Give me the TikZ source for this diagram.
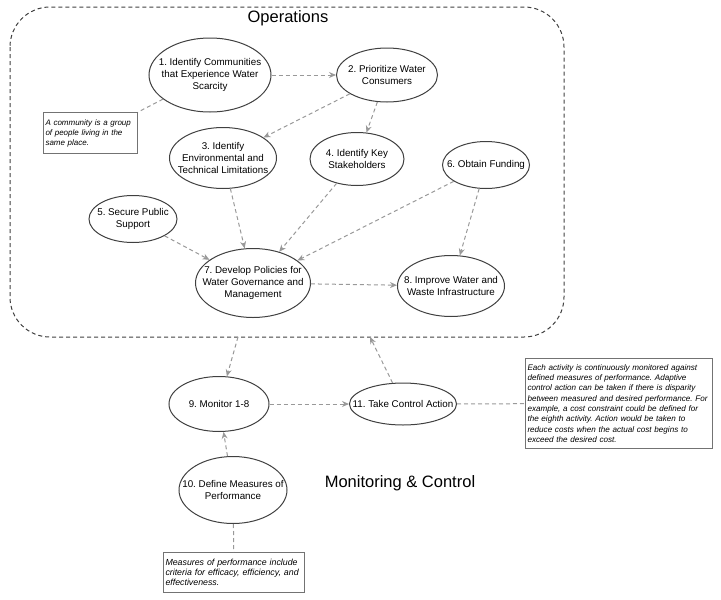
\documentclass[tikz,border=0pt]{standalone}
\usepackage{fontspec}
\setmainfont{Liberation Sans}
\usetikzlibrary{shapes.geometric,arrows.meta}
\frenchspacing
\begin{document}
\begin{tikzpicture}[x=1pt,y=-1pt,
    activity/.style={ellipse,draw=black!75,line width=1pt,fill=white,inner sep=0pt},
    txt/.style={align=center,inner sep=0pt,font=\fontsize{9.8}{11.8}\selectfont},
    flow/.style={draw=black!40,dash pattern=on 4pt off 3pt,line width=1pt,-{Stealth[length=7pt,width=6pt]}},
    link/.style={draw=black!40,dash pattern=on 4pt off 3pt,line width=1pt},
    note/.style={draw=black!55,line width=1pt,fill=white,align=left,inner xsep=2pt,anchor=north west,font=\itshape\fontsize{8}{10}\selectfont},
    heading/.style={font=\fontsize{16.5}{19}\selectfont}]
    \useasboundingbox (0,0) rectangle (721,600);
    \draw[black!75,dash pattern=on 4pt off 3pt,line width=1pt,rounded corners=40] (10,7) rectangle (564,337);
    \node[heading] (ops) at (288,18) {Operations};
    \node[heading] (mc) at (400,483) {Monitoring \& Control};
    \node[activity,minimum width=122,minimum height=74,label={[txt]center:1. Identify Communities\\that Experience Water\\Scarcity}] (n1) at (210,75) {};
    \node[activity,minimum width=101,minimum height=54,label={[txt]center:2. Prioritize Water\\Consumers}] (n2) at (387,75) {};
    \node[activity,minimum width=107,minimum height=61,label={[txt]center:3. Identify\\Environmental and\\Technical Limitations}] (n3) at (223,158) {};
    \node[activity,minimum width=94,minimum height=53,label={[txt]center:4. Identify Key\\Stakeholders}] (n4) at (357,159) {};
    \node[activity,minimum width=88,minimum height=47,label={[txt]center:5. Secure Public\\Support}] (n5) at (133,219) {};
    \node[activity,minimum width=87,minimum height=47,label={[txt]center:6. Obtain Funding}] (n6) at (486,165) {};
    \node[activity,minimum width=115,minimum height=69,label={[txt]center:7. Develop Policies for\\Water Governance and\\Management}] (n7) at (253,283) {};
    \node[activity,minimum width=107,minimum height=61,label={[txt]center:8. Improve Water and\\Waste Infrastructure}] (n8) at (451,286) {};
    \node[activity,minimum width=100,minimum height=55,label={[txt]center:9. Monitor 1-8}] (n9) at (219,404) {};
    \node[activity,minimum width=108,minimum height=67,label={[txt]center:10. Define Measures of\\Performance}] (n10) at (233,490) {};
    \node[activity,minimum width=107,minimum height=42,label={[txt]center:11. Take Control Action}] (n11) at (403,404) {};
    \node[note,text width=90,minimum height=41] (note1) at (43,112) {A community is a group\\of people living in the\\same place.};
    \node[note,text width=183,minimum height=90,font=\itshape\fontsize{8.1}{10.3}\selectfont] (note11) at (525,358) {Each activity is continuously monitored against\\defined measures of performance. Adaptive\\control action can be taken if there is disparity\\between measured and desired performance. For\\example, a cost constraint could be defined for\\the eighth activity. Action would be taken to\\reduce costs when the actual cost begins to\\exceed the desired cost.};
    \node[note,text width=137,minimum height=40,font=\itshape\fontsize{8.8}{10}\selectfont] (note10) at (163,552) {Measures of performance include\\criteria for efficacy, efficiency, and\\effectiveness.};
    \coordinate (in9) at (238,337);
    \coordinate (out11) at (370,337);
    \foreach \a/\b in {n1/n2,n2/n3,n2/n4,n3/n7,n4/n7,n5/n7,n6/n7,n6/n8,n7/n8,n9/n11,n10/n9}
        \draw[flow] (\a) -- (\b);
    \draw[flow] (in9) -- (n9);
    \draw[flow] (n11) -- (out11);
    \draw[link] (n1) -- (note1.north east);
    \draw[link] (n11) -- (note11);
    \draw[link] (n10) -- (note10);
\end{tikzpicture}
\end{document}
